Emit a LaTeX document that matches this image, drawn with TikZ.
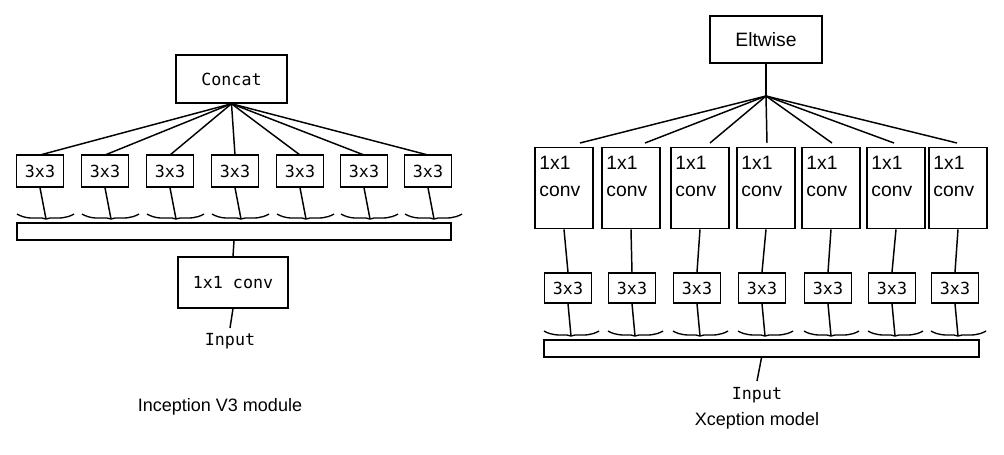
\documentclass[tikz,border=0pt]{standalone}
\usepackage{fontspec}
\setmainfont{Liberation Sans}
\newfontfamily\monof{DejaVu Sans Mono}
\begin{document}
\begin{tikzpicture}[x=0.75pt,y=-0.75pt,line width=1.1pt,
  box/.style={draw,inner sep=0pt,fill=white},
  mono/.style={font=\monof\fontsize{12.5}{14}\selectfont},
  sans/.style={font=\fontsize{14.5}{17}\selectfont},
  wave/.style={line width=1pt}]
\useasboundingbox (0,0) rectangle (1004,454);
% ---- left: Inception V3
\node[box,mono,minimum width=83pt,minimum height=36pt] (concat) at (231.5,79) {Concat};
\node[box,minimum width=325.5pt,minimum height=12.75pt] (lbar) at (234,231.5) {};
\node[box,mono,minimum width=82.5pt,minimum height=38pt] (lconv) at (233,282.5) {1x1 conv};
\node[mono] (lin) at (230,341) {Input};
\foreach \i/\x in {1/40,2/105,3/170,4/235,5/300,6/364,7/428}{
  \node[box,mono,minimum width=35pt,minimum height=24pt] (l\i) at (\x,171) {3x3};
  \coordinate (lt\i) at (\x,155);
  \coordinate (lb\i) at (\x+6,219);
  \draw (concat.south) -- (lt\i);
  \draw (l\i.south) -- (lb\i);
  \draw[wave] (\x-23,214) to[out=-30,in=180] (\x+2,218) -- (lb\i) -- (\x+10,218) to[out=0,in=-150] (\x+34,214);
}
\draw (lbar.south) -- (lconv.north);
\draw (lconv.south) -- (lin.north);
\node[sans,font=\fontsize{13.5}{15}\selectfont] (lcap) at (220,407) {Inception V3 module};
% ---- right: Xception
\node[box,sans,minimum width=84pt,minimum height=35pt] (elt) at (766,39.5) {Eltwise};
\coordinate (hub) at (766,96);
\draw (elt.south) -- (hub);
\foreach \i/\x/\t in {1/564/580,2/631/645,3/700/710,4/766/767,5/831/832,6/896/894,7/958/957}{
  \node[box,minimum width=43.5pt,minimum height=61pt] (c\i) at (\x,188) {};
  \node[sans,anchor=north west] (ct\i) at ([xshift=0pt,yshift=-3pt]c\i.north west) {1x1};
  \node[sans,anchor=north west] (cb\i) at ([xshift=0pt,yshift=-26pt]c\i.north west) {conv};
  \coordinate (rt\i) at (\t,143);
  \draw (hub) -- (rt\i);
}
\foreach \i/\x in {1/568,2/632,3/697,4/762,5/828,6/892,7/955}{
  \node[box,mono,minimum width=35pt,minimum height=22.5pt] (r\i) at (\x,288) {3x3};
  \draw (c\i.south) -- (r\i.north);
  \coordinate (rb\i) at (\x+3,336);
  \draw (r\i.south) -- (rb\i);
  \draw[wave] (\x-24,331) to[out=-30,in=180] (\x-1,335) -- (rb\i) -- (\x+7,335) to[out=0,in=-150] (\x+31,331);
}
\node[box,minimum width=326pt,minimum height=12.75pt] (rbar) at (761.5,348.5) {};
\node[mono] (rin) at (757,395) {Input};
\coordinate (rtop) at (757,381);
\draw (rbar.south) -- (rtop);
\node[sans,font=\fontsize{13.5}{15}\selectfont] (rcap) at (757,421) {Xception model};
\end{tikzpicture}
\end{document}
